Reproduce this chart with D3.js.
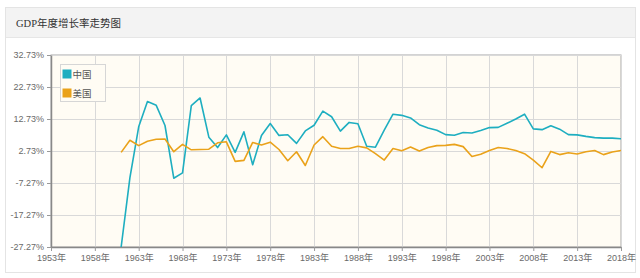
<!DOCTYPE html>
<html>
<head>
<meta charset="utf-8">
<script src="https://cdn.jsdelivr.net/npm/d3@7"></script>
<style>
  body { margin: 0; background: #fff; }
  svg text { font-family: "Liberation Sans", "Noto Sans CJK SC", sans-serif; }
</style>
</head>
<body>
<svg id="chart" width="640" height="278"></svg>
<script>
// data (annual GDP growth, %)
const years = d3.range(1961, 2019);
const china = [-27.27, -5.58, 10.3, 18.18, 17.0, 10.7, -5.77, -4.1, 16.94, 19.3,
  7.06, 3.81, 7.76, 2.31, 8.72, -1.57, 7.55, 11.33, 7.6, 7.81,
  5.11, 9.0, 10.77, 15.19, 13.43, 8.95, 11.66, 11.22, 4.21, 3.92,
  9.26, 14.22, 13.87, 13.05, 10.95, 9.92, 9.23, 7.84, 7.67, 8.49,
  8.34, 9.13, 10.04, 10.11, 11.39, 12.72, 14.23, 9.65, 9.4, 10.64,
  9.55, 7.86, 7.77, 7.3, 6.91, 6.74, 6.76, 6.57];
const usa = [2.3, 6.1, 4.4, 5.8, 6.4, 6.5, 2.5, 4.8, 3.1, 3.2,
  3.3, 5.3, 5.6, -0.5, -0.2, 5.4, 4.6, 5.5, 3.2, -0.3,
  2.5, -1.8, 4.6, 7.2, 4.2, 3.5, 3.5, 4.2, 3.7, 1.9,
  -0.1, 3.5, 2.8, 4.0, 2.7, 3.8, 4.4, 4.5, 4.8, 4.1,
  1.0, 1.7, 2.9, 3.8, 3.5, 2.9, 1.9, -0.1, -2.5, 2.6,
  1.6, 2.2, 1.8, 2.5, 2.9, 1.6, 2.4, 2.9];
const seriesNames = ['中国', '美国'];
const seriesColors = ['#1eaec0', '#eaa21a'];
const yTicks = [-27.27, -17.27, -7.27, 2.73, 12.73, 22.73, 32.73];
const xTicks = d3.range(1953, 2019, 5);

const svg = d3.select('#chart');

// panel + header
svg.append('rect').attr('x', 5.5).attr('y', 7.5).attr('width', 630).attr('height', 265)
  .attr('fill', '#fff').attr('stroke', '#e4e4e4');
svg.append('rect').attr('x', 6).attr('y', 8).attr('width', 629).attr('height', 29)
  .attr('fill', '#f3f3f3');
svg.append('line').attr('x1', 6).attr('x2', 635).attr('y1', 37.5).attr('y2', 37.5)
  .attr('stroke', '#e6e6e6');
svg.append('text').attr('x', 16).attr('y', 27)
  .style('font-family', '"Liberation Serif", "Noto Sans CJK SC", serif')
  .attr('font-size', 10.5).attr('fill', '#333').text('GDP年度增长率走势图');

const margin = { top: 55, left: 51, right: 19, bottom: 31 };
const width = 640 - margin.left - margin.right;
const height = 278 - margin.top - margin.bottom;

const chart = svg.append('g').attr('transform', `translate(${margin.left},${margin.top})`);

const x = d3.scaleLinear().domain([1953, 2018]).range([0, width]);
const y = d3.scaleLinear().domain([-27.27, 32.73]).range([height, 0]);

// plot background with slight shadow
chart.append('rect').attr('x', 1).attr('y', 1).attr('width', width).attr('height', height)
  .attr('fill', '#e9e9e9');
chart.append('rect').attr('width', width).attr('height', height)
  .attr('fill', '#fffcf4').attr('stroke', '#a8a8a8');

// grid
chart.append('g').selectAll('line').data(yTicks).join('line')
  .attr('x1', 0).attr('x2', width)
  .attr('y1', d => Math.round(y(d)) + 0.5).attr('y2', d => Math.round(y(d)) + 0.5)
  .attr('stroke', '#d9d9d9');
chart.append('g').selectAll('line').data(xTicks).join('line')
  .attr('y1', 0).attr('y2', height)
  .attr('x1', d => Math.round(x(d)) + 0.5).attr('x2', d => Math.round(x(d)) + 0.5)
  .attr('stroke', '#d9d9d9');

// axes
const xAxis = d3.axisBottom(x).tickValues(xTicks).tickFormat(d => d + '年')
  .tickSize(4).tickSizeOuter(0).tickPadding(4);
const yAxis = d3.axisLeft(y).tickValues(yTicks).tickFormat(d => d.toFixed(2) + '%')
  .tickSize(4).tickSizeOuter(0).tickPadding(3);

const gx = chart.append('g').attr('transform', `translate(0,${height})`).call(xAxis);
const gy = chart.append('g').call(yAxis);
[gx, gy].forEach(g => {
  g.select('.domain').attr('stroke', '#888').attr('stroke-width', 1.5);
  g.selectAll('.tick line').attr('stroke', '#999');
  g.selectAll('.tick text').attr('fill', '#6a6a6a').attr('font-size', 9);
});

// lines
const clip = chart.append('clipPath').attr('id', 'clip')
  .append('rect').attr('width', width).attr('height', height);
const line = d3.line().x((d, i) => x(years[i])).y(d => y(d));
[china, usa].forEach((s, k) => {
  chart.append('path').datum(s)
    .attr('clip-path', 'url(#clip)')
    .attr('fill', 'none').attr('stroke', seriesColors[k]).attr('stroke-width', 1.6)
    .attr('stroke-linejoin', 'round')
    .attr('d', line);
});

// legend
const legend = chart.append('g').attr('transform', 'translate(9.5,9.5)');
legend.append('rect').attr('width', 45).attr('height', 37)
  .attr('fill', '#fffcf4').attr('stroke', '#d6d6d6');
seriesNames.forEach((n, i) => {
  const g = legend.append('g').attr('transform', `translate(2,${5 + i * 19})`);
  g.append('rect').attr('width', 9).attr('height', 9).attr('fill', seriesColors[i]);
  g.append('text').attr('x', 10).attr('y', 8).attr('font-size', 9.5).attr('fill', '#555').text(n);
});
</script>
</body>
</html>
